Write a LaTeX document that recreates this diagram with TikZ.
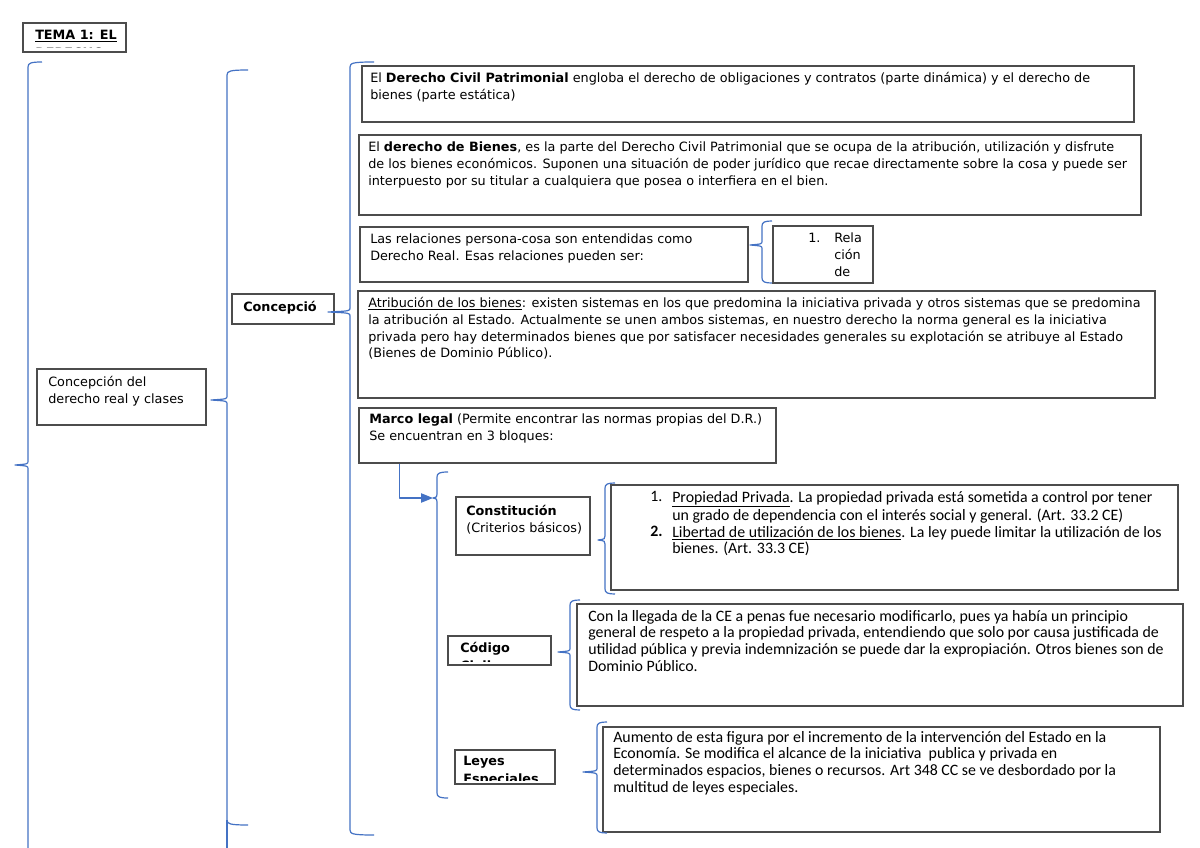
\documentclass[tikz,border=0pt]{standalone}
\usepackage{fontspec}
\setmainfont{DejaVu Sans}
\newfontfamily\calfont{Carlito}
\usetikzlibrary{arrows.meta,calc,fit}
\definecolor{bracecol}{RGB}{68,114,196}
\newcommand\lbr[6]{%
  \draw[brc] (#1+#6,#2) .. controls (#1+3,#2) and (#1,#2+1) .. (#1,#2+5) -- (#1,#3-4)
    .. controls (#1,#3-1) .. (#5,#3) .. controls (#1,#3+1) .. (#1,#3+4) -- (#1,#4-5)
    .. controls (#1,#4-1) and (#1+3,#4) .. (#1+#6,#4);}
\begin{document}
\begin{tikzpicture}[x=0.75pt,y=-0.75pt,
  box/.style={draw=black!70, line width=0.8pt, inner sep=0pt},
  brc/.style={draw=bracecol, line width=0.9pt, line join=round},
  tx/.style={anchor=north west, inner sep=0pt, align=left, font=\fontsize{9.6}{12.6}\selectfont},
  tb/.style={anchor=north west, inner sep=0pt, align=left, font=\bfseries\fontsize{9.6}{13.5}\selectfont},
  tc/.style={anchor=north west, inner sep=0pt, align=left, font=\calfont\fontsize{11.9}{12.5}\selectfont}]
\clip (0,0) rectangle (1200,848);
\fill[white] (0,0) rectangle (1200,848);

% ---- clipped small boxes
\begin{scope}
\clip (23,23) rectangle (126,48);
\node[tb] (tematx) at (35,30) {\underline{TEMA 1: EL}\\\underline{DERECHO}};
\end{scope}
\node[box, fit={(23,23) (126,52)}] (tema) {};

\begin{scope}
\clip (232,294) rectangle (334,324);
\node[tb] (concetx) at (243,301) {Concepció};
\end{scope}
\node[box, fit={(232,294) (334,324)}] (conce) {};

\begin{scope}
\clip (448,636) rectangle (551,661);
\node[tb] (codtx) at (460,642) {Código\\Civil};
\end{scope}
\node[box, fit={(448,636) (551,665)}] (cod) {};

\begin{scope}
\clip (455,750) rectangle (555,780);
\node[tb] (leytx) at (463,756) {Leyes\\Especiales};
\end{scope}
\node[box, fit={(455,750) (555,784)}] (ley) {};

% ---- boxes
\node[box, fit={(362,66) (1134,122)}] (b1) {};
\node[tx] (b1t) at (370,72) {El \textbf{Derecho Civil Patrimonial} engloba el derecho de obligaciones y contratos (parte dinámica) y el derecho de\\bienes (parte estática)};

\node[box, fit={(359,135) (1141,215)}] (b2) {};
\node[tx] (b2t) at (368,141) {El \textbf{derecho de Bienes}, es la parte del Derecho Civil Patrimonial que se ocupa de la atribución, utilización y disfrute\\de los bienes económicos. Suponen una situación de poder jurídico que recae directamente sobre la cosa y puede ser\\interpuesto por su titular a cualquiera que posea o interfiera en el bien.};

\node[box, fit={(360,227) (748,282)}] (b3) {};
\node[tx] (b3t) at (370,234) {Las relaciones persona-cosa son entendidas como\\Derecho Real. Esas relaciones pueden ser:};

\node[box, fit={(773,226) (873,283)}] (rela) {};
\node[tx] (relan) at (808,233) {1.};
\node[tx] (relat) at (834,233) {Rela\\ción\\de};

\node[box, fit={(358,291) (1155,398)}] (b4) {};
\node[tx] (b4t) at (368,297) {\underline{Atribución de los bienes}: existen sistemas en los que predomina la iniciativa privada y otros sistemas que se predomina\\la atribución al Estado. Actualmente se unen ambos sistemas, en nuestro derecho la norma general es la iniciativa\\privada pero hay determinados bienes que por satisfacer necesidades generales su explotación se atribuye al Estado\\(Bienes de Dominio Público).};

\node[box, fit={(37,369) (206,425)}] (cdr) {};
\node[tx] (cdrt) at (48,376) {Concepción del\\derecho real y clases};

\node[box, fit={(359,408) (776,463)}] (marco) {};
\node[tx] (marcot) at (369,414) {\textbf{Marco legal} (Permite encontrar las normas propias del D.R.)\\Se encuentran en 3 bloques:};

\node[box, fit={(456,497) (590,555)}] (const) {};
\node[tx] (constt) at (466,505) {\textbf{Constitución}\\(Criterios básicos)};

\node[box, fit={(611,485) (1178,590)}] (constc) {};
\node[tc] (cn1) at (650,491) {1.};
\node[tc] (ct1) at (672,491) {\underline{Propiedad Privada}. La propiedad privada está sometida a control por tener\\un grado de dependencia con el interés social y general. (Art. 33.2 CE)};
\node[tc] (cn2) at (650,526) {\textbf{2.}};
\node[tc] (ct2) at (672,526) {\underline{Libertad de utilización de los bienes}. La ley puede limitar la utilización de los\\bienes. (Art. 33.3 CE)};

\node[box, fit={(577,604) (1183,706)}] (codc) {};
\node[tc] (codct) at (588,610) {Con la llegada de la CE a penas fue necesario modificarlo, pues ya había un principio\\general de respeto a la propiedad privada, entendiendo que solo por causa justificada de\\utilidad pública y previa indemnización se puede dar la expropiación. Otros bienes son de\\Dominio Público.};

\node[box, fit={(603,727) (1160,832)}] (leyc) {};
\node[tc] (leyct) at (613,731) {Aumento de esta figura por el incremento de la intervención del Estado en la\\Economía. Se modifica el alcance de la iniciativa\ \ publica y privada en\\determinados espacios, bienes o recursos. Art 348 CC se ve desbordado por la\\multitud de leyes especiales.};

% ---- braces
\lbr{28}{62}{465}{880}{15}{14}
\lbr{227}{70}{400}{825}{211}{21}
\draw[brc] (227,820) -- (227,850);
\lbr{350}{62}{312}{835}{328}{24}
\lbr{762}{221}{245}{283}{750}{10}
\lbr{437}{472}{498}{798}{433}{11}
\lbr{605}{483}{540}{594}{598}{10}
\lbr{570}{600}{652}{710}{558}{10}
\lbr{597}{722}{772}{833}{583}{10}

% ---- arrow from Marco legal
\coordinate (arrtip) at (433,498);
\draw[brc, -{Triangle[length=9pt,width=7pt]}] ($(marco.south west)+(41,0)$) |- (arrtip);
\end{tikzpicture}
\end{document}
